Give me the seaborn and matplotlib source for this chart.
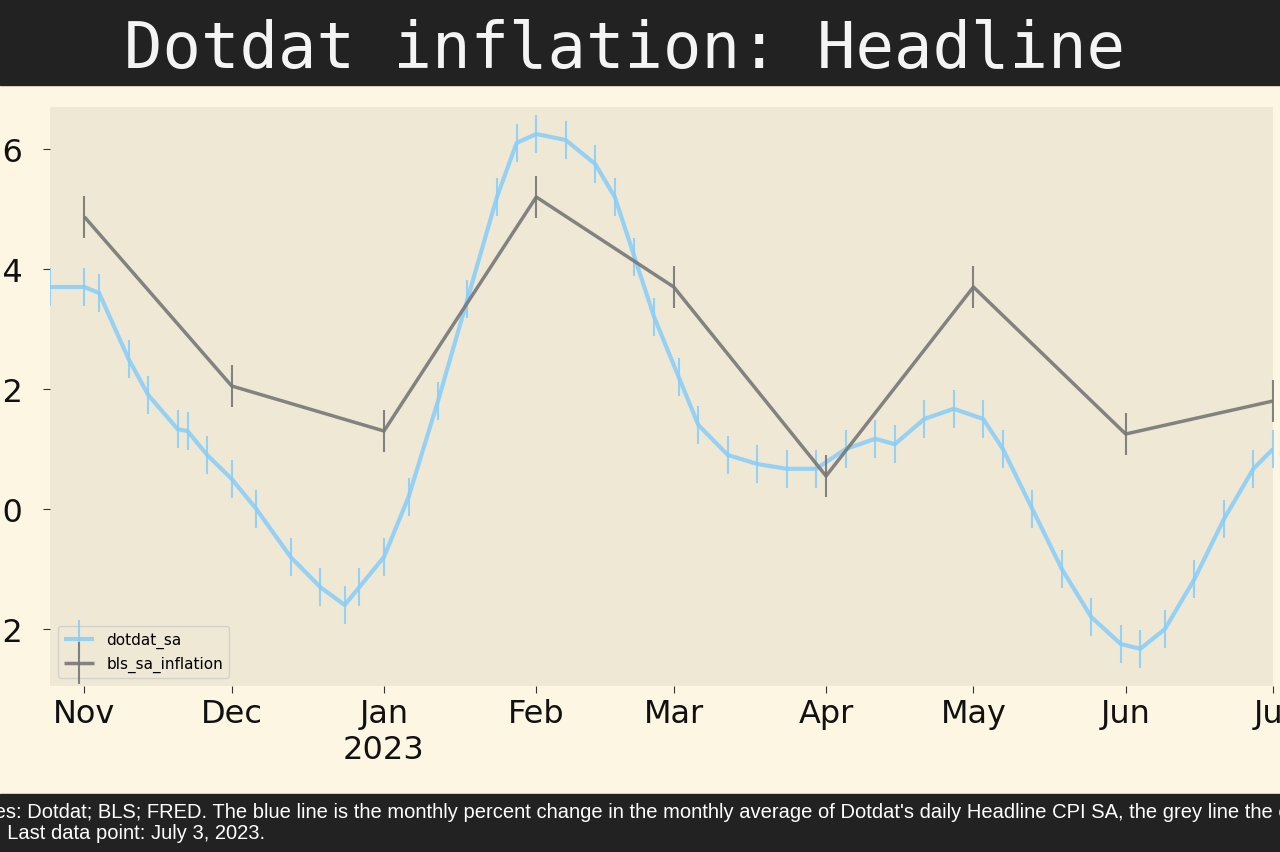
import matplotlib
matplotlib.use("Agg")
import matplotlib.pyplot as plt
import seaborn as sns
import pandas as pd

# ----------------------------
# Data
# ----------------------------
dotdat_dates = ["2022-10-25", "2022-11-01", "2022-11-04", "2022-11-10", "2022-11-14", "2022-11-20",
                "2022-11-22", "2022-11-26", "2022-12-01", "2022-12-06", "2022-12-13", "2022-12-19",
                "2022-12-24", "2022-12-27", "2023-01-01", "2023-01-06", "2023-01-12", "2023-01-18",
                "2023-01-24", "2023-01-28", "2023-02-01", "2023-02-07", "2023-02-13", "2023-02-17",
                "2023-02-21", "2023-02-25", "2023-03-02", "2023-03-06", "2023-03-12", "2023-03-18",
                "2023-03-24", "2023-03-30", "2023-04-05", "2023-04-11", "2023-04-15", "2023-04-21",
                "2023-04-27", "2023-05-03", "2023-05-07", "2023-05-13", "2023-05-19", "2023-05-25",
                "2023-05-31", "2023-06-04", "2023-06-09", "2023-06-15", "2023-06-21", "2023-06-27",
                "2023-07-01"]
dotdat_sa = [0.37, 0.37, 0.36, 0.25, 0.19, 0.133, 0.13, 0.09, 0.05, 0.0, -0.08, -0.13,
             -0.16, -0.13, -0.08, 0.02, 0.18, 0.35, 0.52, 0.61, 0.625, 0.615, 0.575, 0.52,
             0.42, 0.32, 0.22, 0.14, 0.09, 0.075, 0.067, 0.067, 0.1, 0.117, 0.108, 0.15,
             0.167, 0.15, 0.1, 0.0, -0.1, -0.18, -0.225, -0.233, -0.2, -0.117, -0.017, 0.067,
             0.1]

bls_dates = ["2022-11-01", "2022-12-01", "2023-01-01", "2023-02-01", "2023-03-01",
             "2023-04-01", "2023-05-01", "2023-06-01", "2023-07-01"]
bls_sa_inflation = [0.487, 0.205, 0.13, 0.52, 0.37, 0.055, 0.37, 0.125, 0.18]
month_labels = ["Nov", "Dec", "Jan\n2023", "Feb", "Mar", "Apr", "May", "Jun", "Jul"]

df_dot = pd.DataFrame({"date": pd.to_datetime(dotdat_dates), "dotdat_sa": dotdat_sa})
df_bls = pd.DataFrame({"date": pd.to_datetime(bls_dates), "bls_sa_inflation": bls_sa_inflation})

plt.style.use("Solarize_Light2")
plt.rcParams["font.family"] = ["DejaVu Sans"]

fig = plt.figure(figsize=(12.8, 8.53), dpi=100)
fig.patch.set_facecolor("#fdf6e3")

# dark title band and caption band
fig.patches.append(plt.Rectangle((0, 1 - 86 / 853), 1, 86 / 853, transform=fig.transFigure,
                                 color="#222222", zorder=0))
fig.patches.append(plt.Rectangle((0, 0), 1, 58 / 853, transform=fig.transFigure,
                                 color="#222222", zorder=0))
fig.text(0.488, 1 - 50 / 853, "Dotdat inflation: Headline", color="#f4f4f4",
         fontsize=46, family="DejaVu Sans Mono", ha="center", va="center")
fig.text(-0.045, 30 / 853,
         "Sources: Dotdat; BLS; FRED. The blue line is the monthly percent change in the monthly average "
         "of Dotdat's daily Headline CPI SA, the grey line the equivalent BLS\nseries. Last data point: July 3, 2023.",
         color="white", fontsize=14.5, family="Liberation Sans", ha="left", va="center", linespacing=1.15)

ax = fig.add_axes([50 / 1280, 1 - 687 / 853, 1223 / 1280, 579 / 853])
ax.set_facecolor("#eee8d5")

sns.lineplot(data=df_dot, x="date", y="dotdat_sa", ax=ax, color="#87CEFA", linewidth=3,
             marker="|", markersize=28, markeredgewidth=1.5, markeredgecolor="#87CEFA",
             alpha=0.85, label="dotdat_sa")
sns.lineplot(data=df_bls, x="date", y="bls_sa_inflation", ax=ax, color="#777777", linewidth=2.5,
             marker="|", markersize=30, markeredgewidth=1.5, markeredgecolor="#777777",
             alpha=0.9, label="bls_sa_inflation")

ax.set_xlim(pd.Timestamp("2022-10-25"), pd.Timestamp("2023-07-01"))
ax.set_ylim(-0.295, 0.67)
ax.set_yticks([-0.2, 0.0, 0.2, 0.4, 0.6])
ax.grid(False)
for s in ax.spines.values():
    s.set_visible(False)
ax.set_xlabel("")
ax.set_ylabel("")

ax.set_xticks(pd.to_datetime(bls_dates).tolist())
ax.set_xticklabels(month_labels)
ax.tick_params(axis="both", labelsize=23, colors="#111111", length=5, color="#333333")
ax.tick_params(axis="y", pad=14)
for lbl in ax.get_xticklabels() + ax.get_yticklabels():
    lbl.set_color("#111111")

ax.legend(loc="lower left", fontsize=11, facecolor="#eee8d5", framealpha=0.8)

fig.savefig("out.png", dpi=100, facecolor=fig.get_facecolor())
